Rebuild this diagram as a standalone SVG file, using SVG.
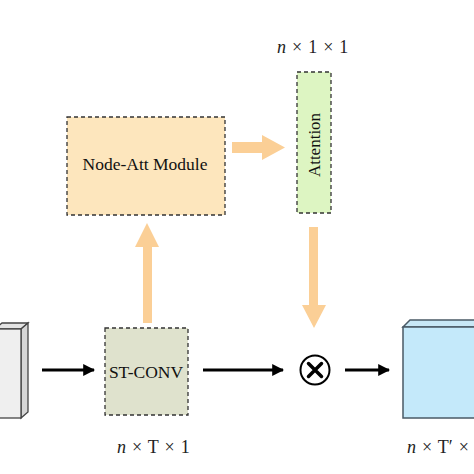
<svg xmlns="http://www.w3.org/2000/svg" width="474" height="474" viewBox="0 0 474 474">
<style>
.box{stroke:#333;stroke-width:1.3;stroke-dasharray:4,3}
.lbl{font-family:"Liberation Serif","DejaVu Serif",serif;font-size:17.5px;fill:#111}
.dim{font-family:"Liberation Serif","DejaVu Serif",serif;font-size:18px;fill:#222;word-spacing:1.5px}
.blk{stroke:#000;stroke-width:3;fill:none}
.org{fill:#fbcf96}
</style>
<defs>
<marker id="ah" viewBox="0 0 10 10" refX="9" refY="5" markerWidth="4" markerHeight="4" orient="auto" markerUnits="strokeWidth">
<path d="M0,0 L10,5 L0,10 z" fill="#000"/>
</marker>
</defs>
<rect width="474" height="474" fill="#fff"/>
<g id="input">
<polygon points="-5,329 21,329 28,323 2,323" fill="#e4e4e4" stroke="#444" stroke-width="1.3"/>
<polygon points="21,329 28,323 28,412 21,418" fill="#d6d6d6" stroke="#444" stroke-width="1.3"/>
<rect x="-5" y="329" width="26" height="89" fill="#efefef" stroke="#444" stroke-width="1.3"/>
</g>
<g id="stconv">
<rect class="box" x="105" y="328" width="83" height="87" fill="#dfe2cd"/>
<text class="lbl" x="146" y="378" text-anchor="middle">ST-CONV</text>
</g>
<g id="nodeatt">
<rect class="box" x="67" y="117" width="158" height="98" fill="#fde6bd"/>
<text class="lbl" x="145" y="170" text-anchor="middle">Node-Att Module</text>
</g>
<g id="attention">
<rect class="box" x="297" y="72" width="34" height="141" fill="#ddf5c2"/>
<text class="lbl" x="0" y="0" text-anchor="middle" transform="translate(320,145) rotate(-90)" style="font-size:17px">Attention</text>
</g>
<g id="mult">
<circle cx="315" cy="370" r="14.5" fill="#fff" stroke="#000" stroke-width="2"/>
<path d="M308.5,363.5 L321.5,376.5 M321.5,363.5 L308.5,376.5" stroke="#000" stroke-width="3.5" stroke-linecap="round"/>
</g>
<g id="output">
<polygon points="403,327 410,320 480,320 480,327" fill="#c8e8f6" stroke="#4a5a66" stroke-width="1.5"/>
<rect x="403" y="327" width="80" height="91" fill="#c4e9fa" stroke="#4a5a66" stroke-width="1.5"/>
</g>
<g id="labels">
<text class="dim" x="117" y="453"><tspan font-style="italic">n</tspan> × T × 1</text>
<text class="dim" x="277" y="53"><tspan font-style="italic">n</tspan> × 1 × 1</text>
<text class="dim" x="407" y="453"><tspan font-style="italic">n</tspan> × T′ ×</text>
</g>
<g id="connectors">
<line class="blk" x1="42" y1="370" x2="94" y2="370" marker-end="url(#ah)"/>
<line class="blk" x1="203" y1="370" x2="283" y2="370" marker-end="url(#ah)"/>
<line class="blk" x1="345" y1="370" x2="389" y2="370" marker-end="url(#ah)"/>
<polygon class="org" points="143,323 152,323 152,247 159,247 147,223 135,247 143,247"/>
<polygon class="org" points="309,227 318,227 318,305 326,305 314,328 302,305 309,305"/>
<polygon class="org" points="232,142 262,142 262,135 285,147.5 262,160 262,153 232,153"/>
</g>
</svg>
